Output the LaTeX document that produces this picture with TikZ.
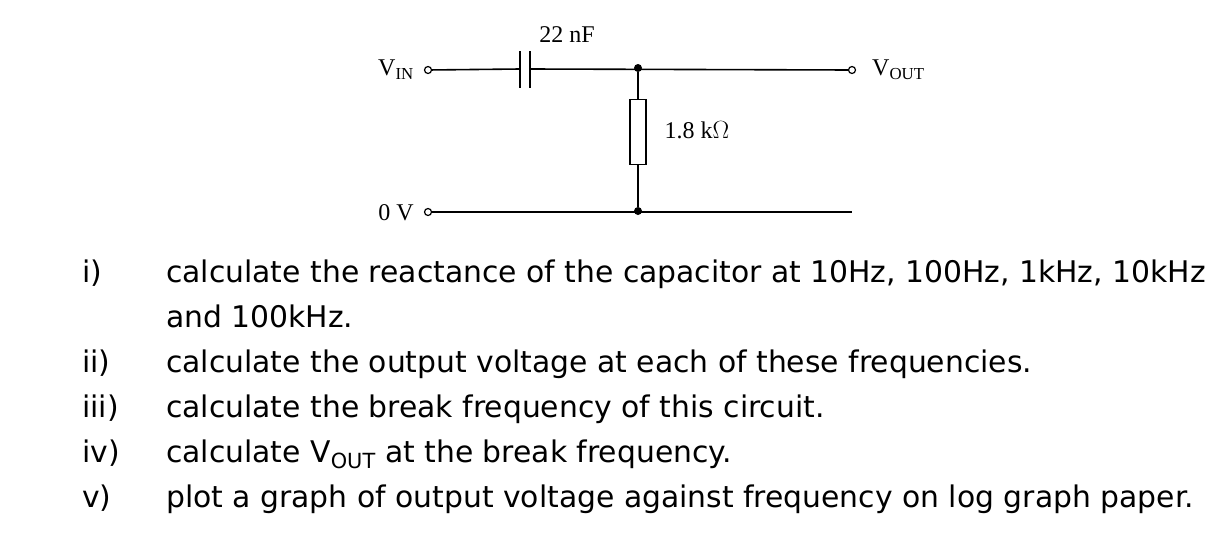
\documentclass[tikz,border=0pt]{standalone}
\usepackage{fontspec}
\setmainfont{Liberation Serif}
\newfontfamily\qfont{DejaVu Sans}
\begin{document}
\begin{tikzpicture}[x=1pt,y=-1pt,
  wire/.style={line width=1.6pt},
  term/.style={circle,draw,line width=1.2pt,fill=white,inner sep=0pt,minimum size=7pt},
  jdot/.style={circle,fill=black,inner sep=0pt,minimum size=8pt},
  clab/.style={font=\fontsize{24}{27}\selectfont,inner sep=0pt},
  qtxt/.style={font=\qfont\fontsize{29.8}{32}\selectfont,anchor=base west,inner sep=0pt}]
\useasboundingbox (0,0) rectangle (1225,544);
% terminals
\node[term] (tin) at (428,70) {};
\node[term] (tout) at (852,70) {};
\node[term] (tgnd) at (428,212) {};
\coordinate (gend) at (852,212);
\node[jdot] (j1) at (638,68) {};
\node[jdot] (j2) at (638,211) {};
% capacitor
\coordinate (c1) at (520,69);
\coordinate (c2) at (530,69);
\draw[wire] (tin) -- (c1);
\draw[line width=1.7pt] (520,51) -- (520,88) (530,51) -- (530,88);
\draw[wire] (c2) -- (tout);
\node[clab] (cl) at (567,35) {22 nF};
% resistor
\node[draw,line width=1.6pt,minimum width=16pt,minimum height=65pt,inner sep=0pt] (r) at (638,132) {};
\draw[wire] (j1) -- (r.north);
\draw[wire] (r.south) -- (j2);
\node[clab] (rl) at (697,130) {1.8 k$\Omega$};
\draw[wire] (tgnd) -- (gend);
% labels
\node[clab,anchor=east] (vin) at (414,70) {V\textsubscript{IN}};
\node[clab,anchor=west] (vout) at (872,70) {V\textsubscript{OUT}};
\node[clab,anchor=east] (zv) at (414,213) {0 V};
% questions
\node[qtxt] (n1) at (82,282) {i)};
\node[qtxt] (q1) at (166,282) {calculate the reactance of the capacitor at 10Hz, 100Hz, 1kHz, 10kHz};
\node[qtxt] (q1b) at (166,327) {and 100kHz.};
\node[qtxt] (n2) at (82,372) {ii)};
\node[qtxt] (q2) at (166,372) {calculate the output voltage at each of these frequencies.};
\node[qtxt] (n3) at (82,417) {iii)};
\node[qtxt] (q3) at (166,417) {calculate the break frequency of this circuit.};
\node[qtxt] (n4) at (82,462) {iv)};
\node[qtxt] (q4) at (166,462) {calculate V\textsubscript{OUT} at the break frequency.};
\node[qtxt] (n5) at (82,507) {v)};
\node[qtxt] (q5) at (166,507) {plot a graph of output voltage against frequency on log graph paper.};
\end{tikzpicture}
\end{document}
